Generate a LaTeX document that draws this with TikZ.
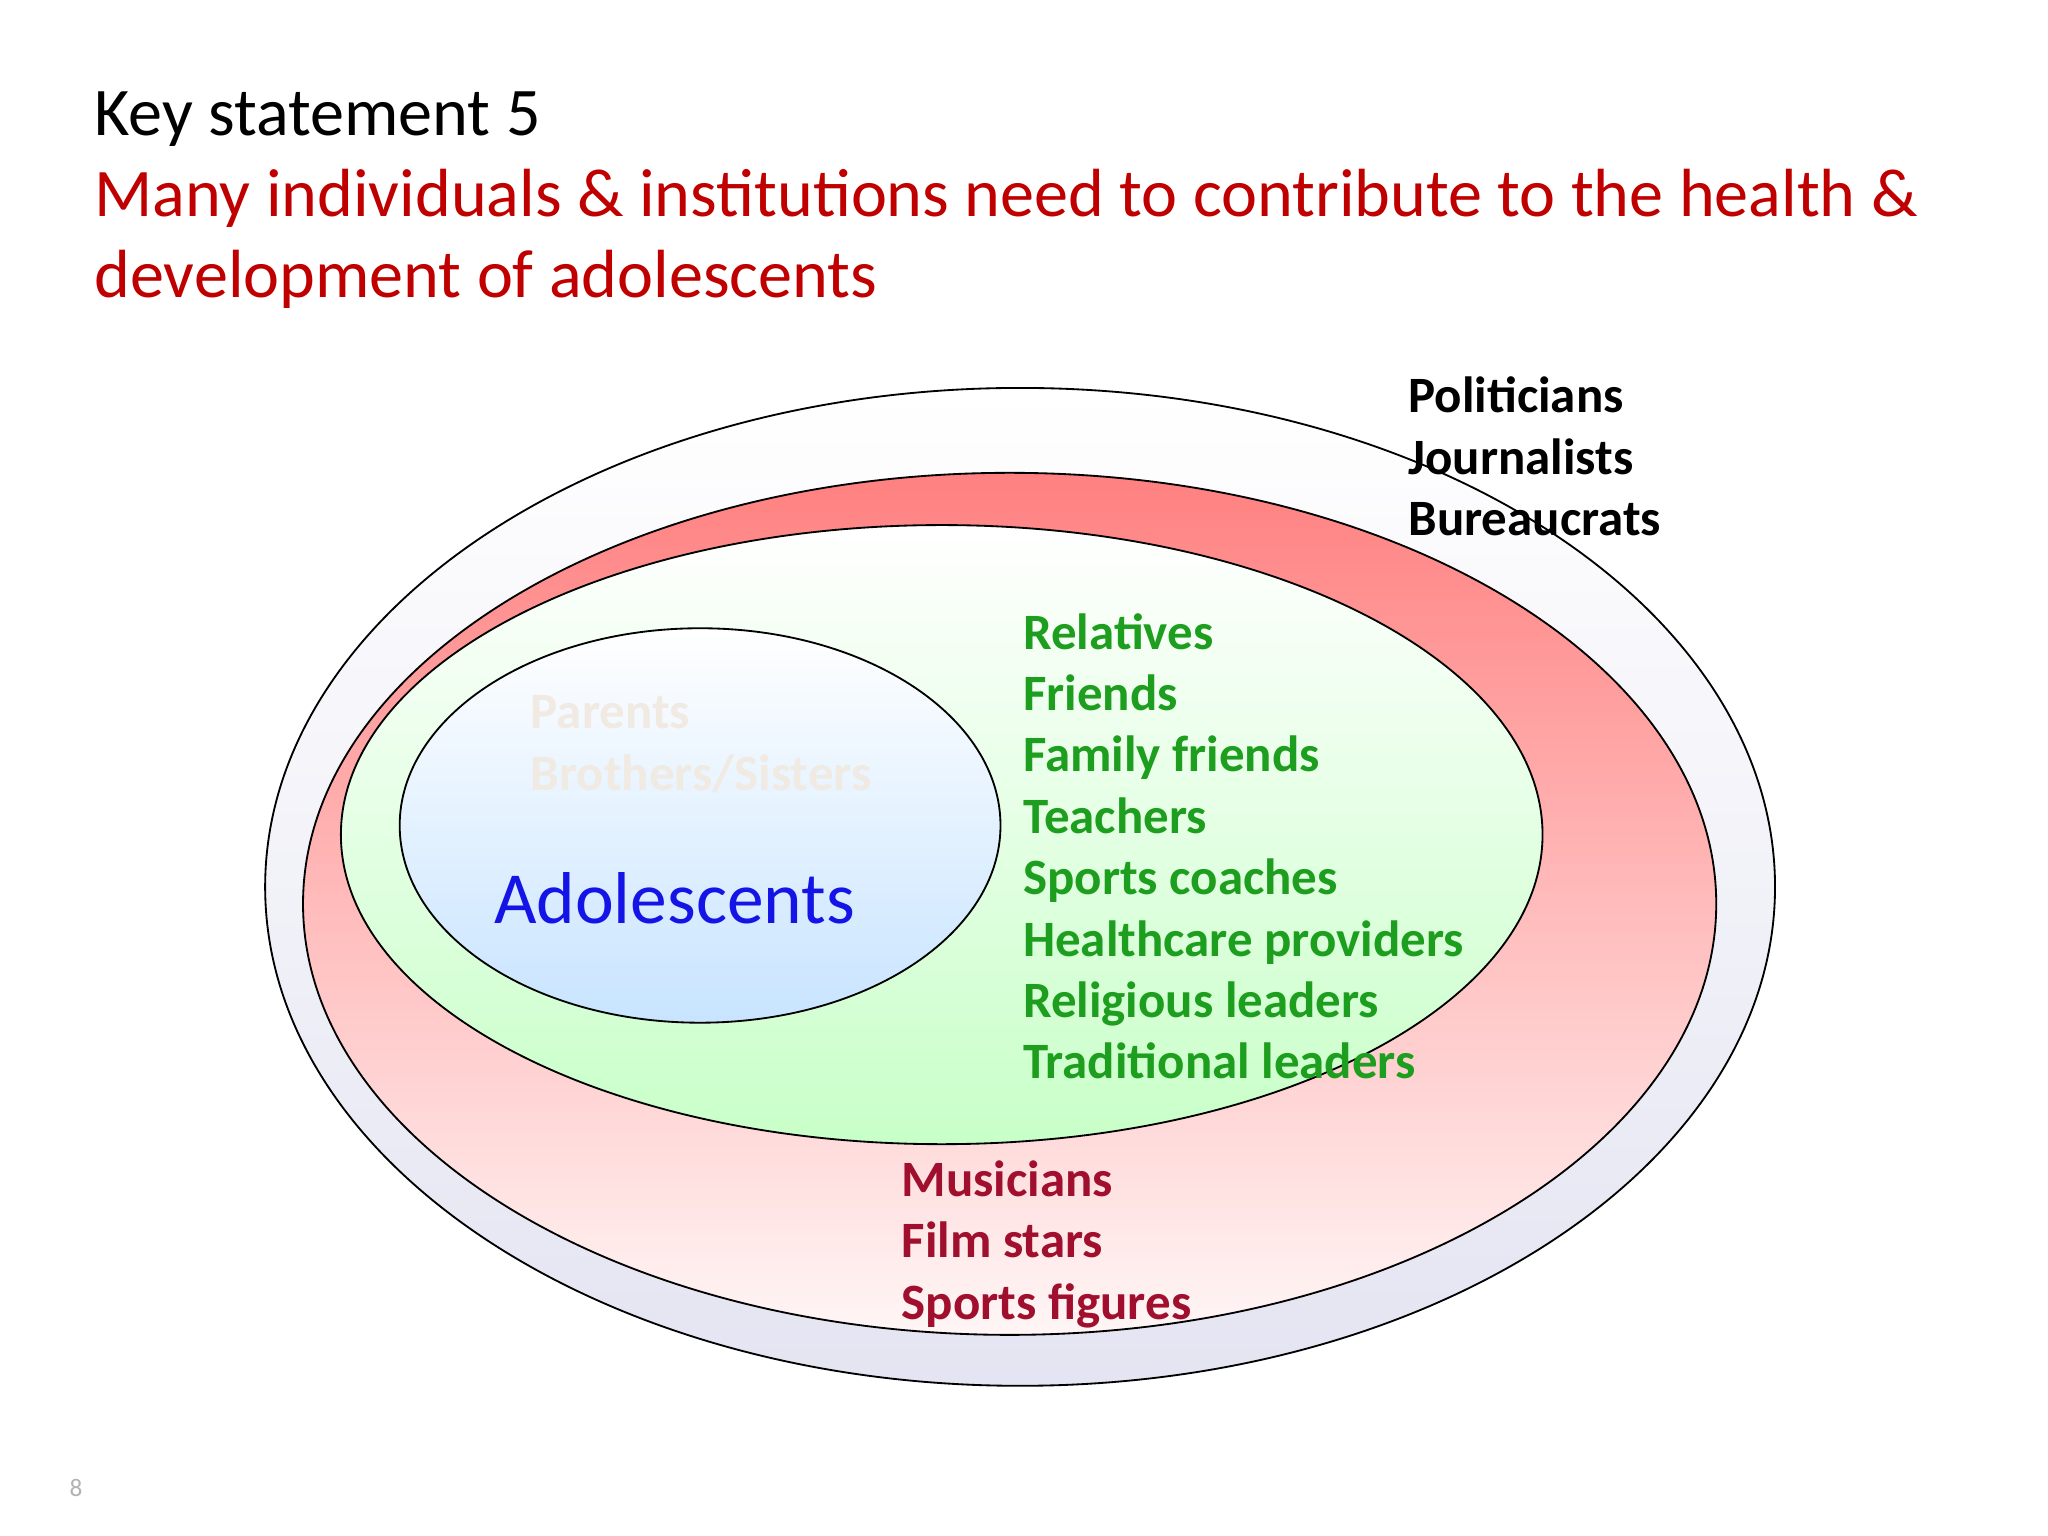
\documentclass[tikz,border=0pt]{standalone}
\usepackage{fontspec}
\setmainfont{Carlito}
\begin{document}
\begin{tikzpicture}[x=0.02cm,y=-0.02cm,
  lbl/.style={anchor=base west,font=\fontsize{22.2}{26}\selectfont\bfseries,inner sep=0pt},
  ell/.style={draw=black,line width=0.8pt}]
\useasboundingbox (0,0) rectangle (1568,1176);
\definecolor{redt}{HTML}{C00000}
\definecolor{grn}{HTML}{1E9E1E}
\definecolor{mus}{HTML}{A0102E}
\node[anchor=base west,inner sep=0pt,font=\fontsize{29.7}{34}\selectfont] (t1) at (72,104) {Key statement 5};
\node[anchor=base west,inner sep=0pt,font=\fontsize{29.7}{34}\selectfont,text=redt] (t2) at (72,166) {Many individuals \& institutions need to contribute to the health \&};
\node[anchor=base west,inner sep=0pt,font=\fontsize{29.7}{34}\selectfont,text=redt] (t3) at (72,228) {development of adolescents};
\path[ell,top color=white,bottom color={rgb,255:red,228;green,228;blue,242}] (781,679) ellipse [x radius=578,y radius=382];
\path[ell,top color={rgb,255:red,255;green,128;blue,128},bottom color={rgb,255:red,255;green,246;blue,246}] (773,692) ellipse [x radius=541,y radius=330];
\path[ell,top color=white,bottom color={rgb,255:red,200;green,255;blue,200}] (721,639) ellipse [x radius=460,y radius=237];
\path[ell,top color=white,bottom color={rgb,255:red,200;green,228;blue,255}] (536,632) ellipse [x radius=230,y radius=151];
\foreach \t [count=\i from 0] in {Politicians,Journalists,Bureaucrats}
  \node[lbl] (p\i) at (1078,316+47*\i) {\t};
\foreach \t [count=\i from 0] in {Relatives,Friends,Family friends,Teachers,Sports coaches,Healthcare providers,Religious leaders,Traditional leaders}
  \node[lbl,text=grn] (g\i) at (783,497+47*\i) {\t};
\foreach \t [count=\i from 0] in {Musicians,Film stars,Sports figures}
  \node[lbl,text=mus] (m\i) at (690,916+47*\i) {\t};
\foreach \t [count=\i from 0] in {Parents,Brothers/Sisters}
  \node[lbl,text={rgb,255:red,240;green,234;blue,226}] (f\i) at (406,558+47*\i) {\t};
\node[anchor=base west,inner sep=0pt,font=\fontsize{32}{36}\selectfont,text={rgb,255:red,20;green,20;blue,230}] (ad) at (378,707) {Adolescents};
\node[anchor=base west,inner sep=0pt,font=\fontsize{11}{13}\selectfont,text=black!30] (pg) at (53,1146) {8};
\end{tikzpicture}
\end{document}
